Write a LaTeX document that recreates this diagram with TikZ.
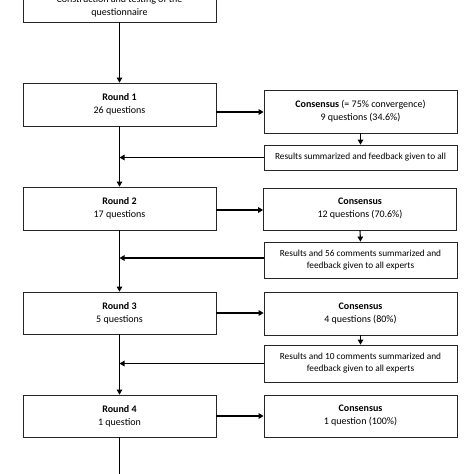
\documentclass[tikz,border=0pt]{standalone}
\usepackage{fontspec}
\setmainfont{Carlito}
\usetikzlibrary{arrows.meta}
\begin{document}
\begin{tikzpicture}[x=1pt,y=-1pt,
  box/.style={draw=black!85, line width=0.8pt, minimum width=193pt, align=center, inner sep=0pt, font=\fontsize{10}{13}\selectfont},
  fbox/.style={box, font=\fontsize{9.3}{12}\selectfont},
  flow/.style={line width=1.6pt, -{Triangle[length=5pt,width=5.5pt]}},
  side/.style={line width=1.4pt, -{Triangle[length=5pt,width=5.5pt]}}
]
\useasboundingbox (0,0) rectangle (474,474);
\clip (0,0) rectangle (474,474);
\fill[white] (0,0) rectangle (474,474);

\node[box, minimum height=31.4pt] (start) at (119.5,6.3) {Construction and testing of the\\questionnaire};

\node[box, minimum height=43pt] (r1) at (119.5,104.5) {\textbf{Round 1}\\26 questions};
\node[box, minimum height=43pt] (c1) at (360.5,111.5) {\textbf{Consensus} (= 75\% convergence)\\9 questions (34.6\%)};
\node[fbox, minimum height=25pt] (f1) at (360.5,157.5) {Results summarized and feedback given to all};

\node[box, minimum height=43pt] (r2) at (119.5,208.5) {\textbf{Round 2}\\17 questions};
\node[box, minimum height=42pt] (c2) at (360,209) {\textbf{Consensus}\\12 questions (70.6\%)};
\node[fbox, minimum height=36pt] (f2) at (360.5,260) {Results and 56 comments summarized and\\feedback given to all experts};

\node[box, minimum height=42pt] (r3) at (119.5,313) {\textbf{Round 3}\\5 questions};
\node[box, minimum height=43pt] (c3) at (360.5,313.5) {\textbf{Consensus}\\4 questions (80\%)};
\node[fbox, minimum height=37pt] (f3) at (360.5,363.5) {Results and 10 comments summarized and\\feedback given to all experts};

\node[box, minimum height=42pt] (r4) at (119.5,416) {\textbf{Round 4}\\1 question};
\node[box, minimum height=42pt] (c4) at (360.5,416) {\textbf{Consensus}\\1 question (100\%)};

\coordinate (end) at (119.5,480);

\draw[flow] (start.south) -- (r1.north);
\draw[flow] (r1.south) -- (r2.north);
\draw[flow] (r2.south) -- (r3.north);
\draw[flow] (r3.south) -- (r4.north);
\draw[line width=1.6pt] (r4.south) -- (end);

\draw[side] (r1.east |- 0,112) -- (c1.west |- 0,112);
\draw[side] (r2.east |- 0,210) -- (c2.west |- 0,210);
\draw[side] (r3.east |- 0,313) -- (c3.west |- 0,313);
\draw[side] (r4.east |- 0,416) -- (c4.west |- 0,416);

\draw[side, line width=1.1pt] (c1.south) -- (f1.north);
\draw[side, line width=1.1pt] (c2.south) -- (f2.north);
\draw[side, line width=1.1pt] (c3.south) -- (f3.north);

\draw[side] (f1.west) -- (f1.west -| r1.south);
\draw[side] (f2.west |- 0,258) -- (r1.south |- 0,258);
\draw[side] (f3.west) -- (f3.west -| r1.south);
\end{tikzpicture}
\end{document}
